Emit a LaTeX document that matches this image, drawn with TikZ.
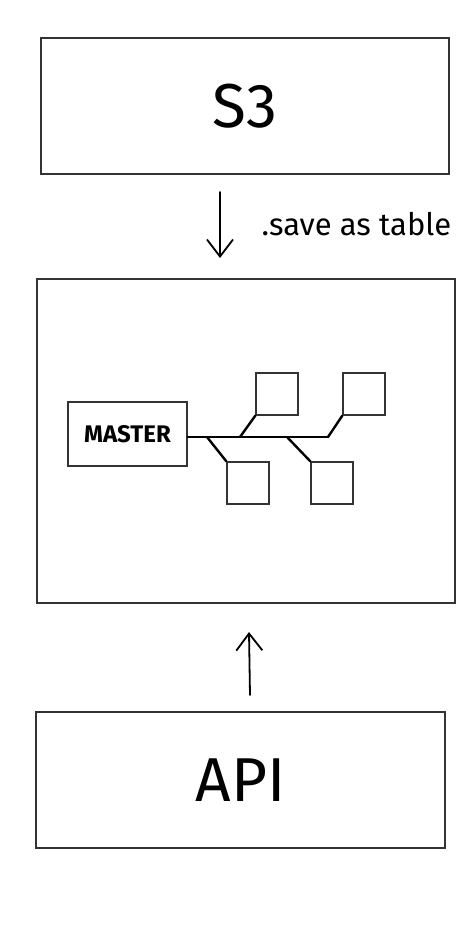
\documentclass[tikz,border=0pt]{standalone}
\usepackage{fontspec}
\setmainfont{Fira Sans}
\usetikzlibrary{arrows.meta}
\begin{document}
\begin{tikzpicture}[x=1pt,y=-1pt,
  box/.style={draw=black!80,line width=1.4pt,rectangle,inner sep=0pt},
  small/.style={box,minimum width=42pt,minimum height=42pt},
  link/.style={line width=2.4pt,line cap=round},
  flow/.style={line width=1.8pt,line cap=round,-{Straight Barb[length=17pt,width=26pt,line width=1.8pt]}},
  big/.style={font=\fontsize{62}{62}\selectfont}]
\useasboundingbox[fill=white] (0,0) rectangle (474,935);
\node[box,minimum width=408pt,minimum height=136pt,big] (s3) at (245,106) {S3};
\node[box,minimum width=418pt,minimum height=324pt] (mid) at (246,441) {};
\node[box,minimum width=119pt,minimum height=64pt,font=\fontsize{24}{24}\selectfont\bfseries] (master) at (127.5,434) {MASTER};
\node[small] (ul) at (277,394) {};
\node[small] (ur) at (364,394) {};
\node[small] (ll) at (248,483) {};
\node[small] (lr) at (332,483) {};
\node[box,minimum width=409pt,minimum height=136pt,big] (api) at (240.5,780) {API};
\coordinate (lend) at (328,437);
\coordinate (j1) at (207,437);
\coordinate (j2) at (240,437);
\coordinate (j3) at (287,437);
\draw[link] (master.east |- lend) -- (lend);
\draw[link] (j1) -- (ll.north west);
\draw[link] (j2) -- (ul.south west);
\draw[link] (j3) -- (lr.north west);
\draw[link] (lend) -- (ur.south west);
\coordinate (d1) at (220,192);
\coordinate (d2) at (220,258);
\draw[flow] (d1) -- (d2);
\node[anchor=west,font=\fontsize{31}{31}\selectfont] (lab) at (258,224) {.save as table};
\coordinate (u1) at (250,695);
\coordinate (u2) at (249,632);
\draw[flow] (u1) -- (u2);
\end{tikzpicture}
\end{document}
